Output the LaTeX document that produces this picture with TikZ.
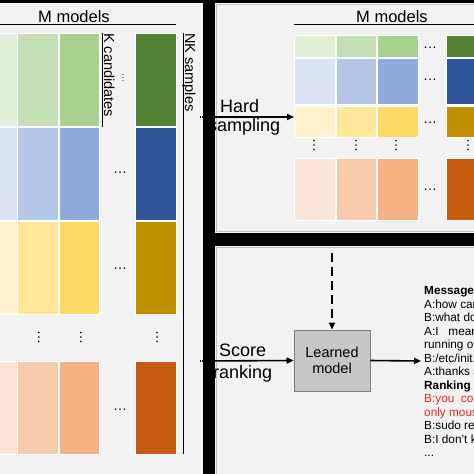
\documentclass[tikz,border=0pt]{standalone}
\usepackage{fontspec}
\setmainfont{Liberation Sans}
\usetikzlibrary{arrows.meta}
\definecolor{panel}{HTML}{F2F2F2}
\definecolor{gA}{HTML}{E2F0D9}\definecolor{gB}{HTML}{C5E0B4}
\definecolor{gC}{HTML}{A9D18E}\definecolor{gD}{HTML}{548235}
\definecolor{bA}{HTML}{DAE3F3}\definecolor{bB}{HTML}{B4C7E7}
\definecolor{bC}{HTML}{8FAADC}\definecolor{bD}{HTML}{2F5597}
\definecolor{yA}{HTML}{FFF2CC}\definecolor{yB}{HTML}{FFE699}
\definecolor{yC}{HTML}{FFD966}\definecolor{yD}{HTML}{BF9000}
\definecolor{oA}{HTML}{FBE5D6}\definecolor{oB}{HTML}{F8CBAD}
\definecolor{oC}{HTML}{F4B183}\definecolor{oD}{HTML}{C55A11}
\definecolor{msgred}{HTML}{E0262B}

\begin{document}
\begin{tikzpicture}[x=1pt, y=-1pt,
    arr/.style={-{Triangle[length=7pt,width=6pt]}, line width=1.6pt},
    dasharr/.style={arr, line width=2.2pt, dash pattern=on 9pt off 5pt},
    lmbox/.style={draw=black!50, fill=black!22, line width=.8pt, minimum width=76pt,
        minimum height=61pt, align=center, font=\fontsize{14.5}{16.5}\selectfont},
    lbl/.style={font=\fontsize{16.5}{18}\selectfont, inner sep=0, anchor=base},
    side/.style={font=\fontsize{14.5}{16}\selectfont, inner sep=0, rotate=-90, anchor=base west},
    big/.style={font=\fontsize{18}{20}\selectfont, inner sep=0, anchor=base west},
    hdots/.style={font=\fontsize{14}{14}\selectfont, inner sep=0},
    vdts/.style={hdots, rotate=90},
    cell/.style={draw=white, line width=.5pt}]
    \useasboundingbox (0,0) rectangle (474,474);
    \clip (0,0) rectangle (474,474);
    \fill[panel] (0,0) rectangle (474,474);
    \draw[black!25, line width=.6pt] (216,4) rectangle (478,231);
    \draw[black!25, line width=.6pt] (216,247) rectangle (478,478);
    % left panel: NK samples
    \foreach \c/\ya/\yb in {g/33/126.5, b/127/220.5, y/221/314, o/361/454}{
        \foreach \n/\xa/\xb in {A/-24/17, B/17.5/58.5, C/59/99.5, D/135/176}
            \filldraw[cell, fill=\c\n] (\xa,\ya) rectangle (\xb,\yb);
    }
    \draw[line width=.8pt] (-5,24.5) -- (176,24.5);
    \node[lbl] (mmL) at (74,22) {M models};
    \draw[line width=.8pt] (102,33) -- (102,127);
    \node[side] (kcand) at (104,33) {K candidates};
    \draw[line width=.8pt] (183,33) -- (183,454);
    \node[side] (nks) at (185,33) {NK samples};
    \node[hdots, rotate=-90, font=\fontsize{9}{9}\selectfont] (dg) at (123,78) {…};
    \node[hdots] (db) at (120,173) {…};
    \node[hdots] (dy) at (120,269) {…};
    \node[hdots] (do) at (120,410) {…};
    \foreach \x [count=\i] in {39,81,157}
        \node[vdts] (vl\i) at (\x,337) {…};
    % top right: hard sampling
    \foreach \c/\ya/\yb in {g/35/57.5, b/58/104, y/106/137, o/158/220}{
        \foreach \n/\xa/\xb in {A/294/335.5, B/336/376.5, C/377/418, D/446/487}
            \filldraw[cell, fill=\c\n] (\xa,\ya) rectangle (\xb,\yb);
    }
    \draw[line width=.8pt] (294,24.5) -- (480,24.5);
    \node[lbl] (mmR) at (392,22.5) {M models};
    \foreach \y [count=\i] in {48,80,123,190}
        \node[hdots] (hr\i) at (430,\y) {…};
    \foreach \x [count=\i] in {314,356,396,468}
        \node[vdts] (vr\i) at (\x,145) {…};
    \node[big] (hard) at (220,112) {Hard};
    \node[big] (samp) at (208,131) {sampling};
    \coordinate (hsTail) at (200,117);
    \coordinate (hsHead) at (294,117);
    \draw[arr] (hsTail) -- (hsHead);
    % bottom right: score ranking
    \node[lmbox] (lm) at (332,360.5) {Learned\\model};
    \coordinate (dashTop) at (332,253);
    \draw[dasharr] (dashTop) -- (lm.north);
    \node[big] (score) at (219,356) {Score};
    \node[big] (rank) at (213,378) {ranking};
    \coordinate (srTail) at (200,361);
    \draw[arr] (srTail) -- (lm.west);
    \coordinate (msgIn) at (421,361);
    \draw[arr] (lm.east) -- (msgIn);
    \node[anchor=north west, align=left, inner sep=0, font=\fontsize{11.8}{13.5}\selectfont] (msg) at (424,286.5)
        {\textbf{Messages:}\\ A:how can\\ B:what do\\ A:I\ \ \ meant\\ running on\\ B:/etc/init.\\
         A:thanks s\\ \textbf{Ranking c}\\ \textcolor{msgred}{B:you\ \ cou}\\ \textcolor{msgred}{only mous}\\
         B:sudo rel\\ B:I don't k\\ ...};
    % frame
    \fill[black] (0,0) rectangle (474,2.5);
    \draw[white, line width=.8pt] (0,3.2) -- (474,3.2);
    \draw[white, line width=.8pt] (201.8,3) -- (201.8,474);
    \fill[black] (202.5,0) rectangle (214.5,474);
    \fill[black] (214.5,232.5) rectangle (474,245.5);
\end{tikzpicture}
\end{document}
